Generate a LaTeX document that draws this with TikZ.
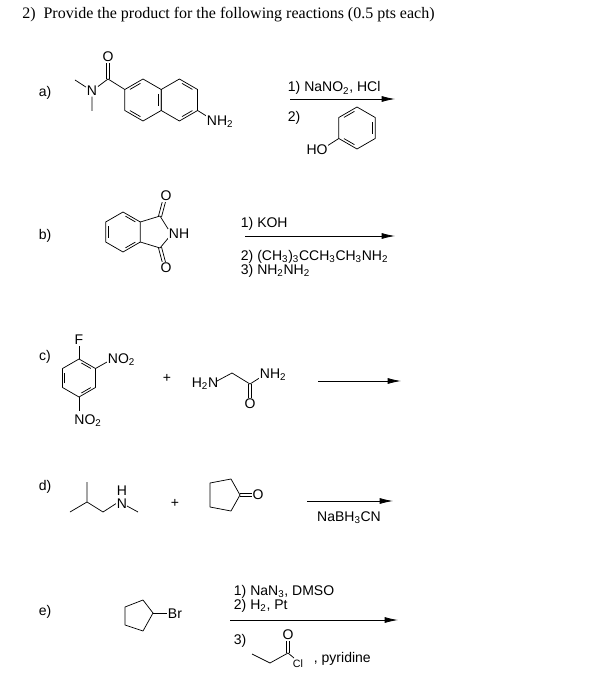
\documentclass[tikz,border=0pt]{standalone}
\usepackage{fontspec}
\setmainfont{Liberation Sans}
\newfontfamily\serif{Liberation Serif}
\newcommand\ringat[6]{%
 \draw[bond] ({#1+#3*cos(#4)},{#2+#3*sin(#4)}) \foreach \k in {1,...,#5}{ -- ({#1+#3*cos(#4+360*\k/#5)},{#2+#3*sin(#4+360*\k/#5)}) } -- cycle;
 \foreach \k in {#6}{\draw[bond] ({#1+0.8*#3*cos(#4+360*\k/#5+9)},{#2+0.8*#3*sin(#4+360*\k/#5+9)}) -- ({#1+0.8*#3*cos(#4+360*(\k+1)/#5-9)},{#2+0.8*#3*sin(#4+360*(\k+1)/#5-9)});}}
\begin{document}
\begin{tikzpicture}[x=0.75pt,y=-0.75pt,
 bond/.style={line width=0.55pt,line join=round},
 arr/.style={line width=0.6pt,-{Latex[length=10pt,width=4.5pt]}},
 lab/.style={font=\fontsize{10.5}{12}\selectfont,inner sep=0.5pt},
 atom/.style={font=\fontsize{10.5}{12}\selectfont,inner sep=0.5pt,fill=white}]
\useasboundingbox (0,0) rectangle (615,673);
\usetikzlibrary{arrows.meta}
\node[anchor=base west,font=\serif\fontsize{12}{14}\selectfont,inner sep=0] (title) at (22,19) {2)\ \ Provide the product for the following reactions (0.5 pts each)};
\foreach \n/\t/\y in {la/a)/93,lb/b)/236,lc/c)/357,ld/d)/487,le/e)/612}{\node[lab] (\n) at (45,\y) {\t};}
% a)
\ringat{143}{100}{21}{-90}{6}{1,3,5}
\ringat{179.4}{100}{21}{-90}{6}{0,2}
\draw[bond] (124.8,89.5) -- (108,79) coordinate (ca);
\draw[bond] (106.5,79) -- (106.5,60) (109.5,79) -- (109.5,60);
\node[atom] (oa) at (108,57) {O};
\node[atom] (na) at (92,91) {N};
\draw[bond] (ca) -- (na) (na) -- (75,80) (na) -- (92,111);
\draw[bond] (197.6,110.5) -- (208,117);
\node[atom,anchor=west] (nh2a) at (206,122) {NH\textsubscript{2}};
\draw[arr] (290,99) -- (395,99);
\node[lab,anchor=base west] (ra1) at (287,92) {1) NaNO\textsubscript{2}, HCl};
\node[lab,anchor=base west] (ra2) at (287,122) {2)};
\ringat{357}{128}{21}{-90}{6}{1,3,5}
\draw[bond] (338.8,138.5) -- (327,146);
\node[atom] (hoa) at (317,150) {HO};
% b)
\ringat{123}{232}{20}{-90}{6}{0,2,4}
\draw[bond] (140.3,222) -- (160,216) -- (170,232);
\draw[bond] (140.3,242) -- (160,248) -- (170,236);
\node[atom,anchor=west] (nhb) at (168,234) {NH};
\draw[bond] (158.5,216) -- (163,199) (161.5,217) -- (166,200);
\draw[bond] (158.5,248) -- (163,265) (161.5,247) -- (166,264);
\node[atom] (ob1) at (166,196) {O};
\node[atom] (ob2) at (166,268) {O};
\draw[arr] (245,236) -- (395,236);
\node[lab,anchor=base west] (rb1) at (240,228) {1) KOH};
\node[lab,anchor=base west] (rb2) at (240,260) {2) (CH\textsubscript{3})\textsubscript{3}CCH\textsubscript{3}CH\textsubscript{3}NH\textsubscript{2}};
\node[lab,anchor=base west] (rb3) at (240,274) {3) NH\textsubscript{2}NH\textsubscript{2}};
% c)
\ringat{79}{378}{19}{-90}{6}{0,2,4}
\draw[bond] (79,359) -- (79,346);
\node[atom] (fc) at (79,340) {F};
\draw[bond] (95.5,368.5) -- (107,362);
\node[atom,anchor=west] (no2c1) at (107,360) {NO\textsubscript{2}};
\draw[bond] (79,397) -- (79,411);
\node[atom] (no2c2) at (88,421) {NO\textsubscript{2}};
\node[lab] (pc) at (167,378) {+};
\node[atom] (h2nc) at (205,384) {H\textsubscript{2}N};
\draw[bond] (217,381) -- (232,373) -- (250,384) -- (261,377);
\draw[bond] (248.5,384) -- (248.5,401) (251.5,384) -- (251.5,401);
\node[atom] (oc) at (250,404) {O};
\node[atom,anchor=west] (nh2c) at (259,375) {NH\textsubscript{2}};
\draw[arr] (318,381) -- (401,381);
% d)
\draw[bond] (70,512) -- (87,502) -- (103,512) -- (117,503) (87,502) -- (87,482);
\node[atom] (nd) at (122,504) {N};
\node[atom] (hd) at (122,491) {H};
\draw[bond] (127,506) -- (138,512);
\node[lab] (pd) at (175,503) {+};
\draw[bond] (240,495) -- (231,479) -- (210,483) -- (210,507) -- (231,511) -- cycle;
\draw[bond] (240,493.5) -- (253,493.5) (240,496.5) -- (253,496.5);
\node[atom] (od) at (258,495) {O};
\draw[arr] (307,501) -- (393,501);
\node[lab] (rd) at (349,518) {NaBH\textsubscript{3}CN};
% e)
\draw[bond] (153,613) -- (143,600) -- (125,607) -- (125,625) -- (143,631) -- cycle;
\draw[bond] (153,613) -- (168,613);
\node[atom,anchor=west] (bre) at (167,614) {Br};
\draw[arr] (230,620) -- (398,620);
\node[lab,anchor=base west] (re1) at (233,595) {1) NaN\textsubscript{3}, DMSO};
\node[lab,anchor=base west] (re2) at (233,609) {2) H\textsubscript{2}, Pt};
\node[lab,anchor=base west] (re3) at (233,644) {3)};
\draw[bond] (252,654) -- (270,663) -- (288,653) -- (294,658);
\draw[bond] (286.5,653) -- (286.5,639) (289.5,653) -- (289.5,639);
\node[atom] (oe) at (288,635) {O};
\node[atom,font=\fontsize{8}{9}\selectfont] (cle) at (298,664) {Cl};
\node[lab,anchor=base west] (pyr) at (313,662) {, pyridine};
\end{tikzpicture}
\end{document}
